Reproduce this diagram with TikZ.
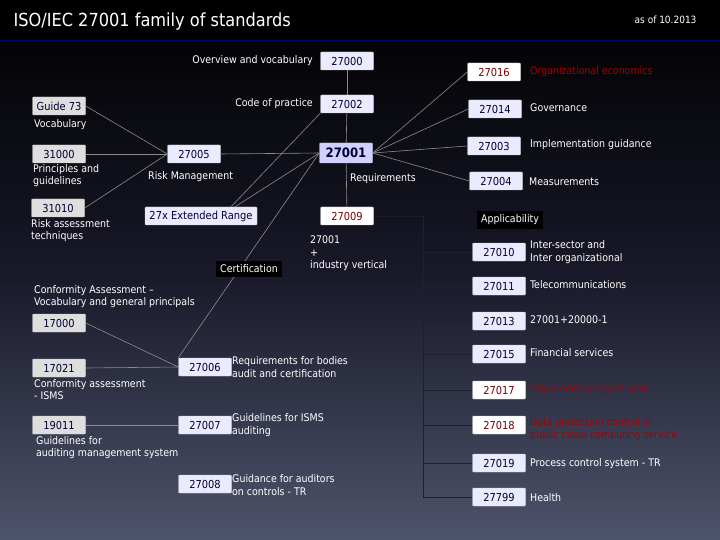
\documentclass[tikz,border=0pt]{standalone}
\usepackage{fontspec}
\setmainfont{DejaVu Sans Condensed}
\definecolor{bgbot}{RGB}{78,84,108}
\definecolor{bgmid}{RGB}{24,24,40}
\definecolor{treeln}{RGB}{30,32,50}
\begin{document}
\begin{tikzpicture}[x=1pt,y=-1pt,
  box/.style={draw=white!80!black,fill=blue!8!white,rounded corners=1pt,inner sep=2.5pt,minimum height=18pt,minimum width=53pt,font=\fontsize{11}{12}\selectfont,text=black!80!blue},
  gbox/.style={box,fill=black!13},
  wbox/.style={box,fill=white,text=red!45!black},
  lbl/.style={text=white,font=\fontsize{10.5}{12.5}\selectfont,align=left,inner sep=0pt},
  rlbl/.style={lbl,text=red!65!black},
  ln/.style={draw=black!45,line width=0.6pt},
  tln/.style={draw=treeln,line width=0.8pt}]
\useasboundingbox (0,0) rectangle (720,540);
\shade[top color=black, bottom color=bgbot, middle color=bgmid] (0,0) rectangle (720,540);
\fill[black] (0,0) rectangle (720,40);
\draw[blue!40!black,line width=1pt] (0,40.5) -- (720,40.5);
\node[text=white,font=\fontsize{18}{20}\selectfont,anchor=west] (title) at (10,22) {ISO/IEC 27001 family of standards};
\node[text=white,font=\fontsize{10}{11}\selectfont,anchor=east] (date) at (700,20) {as of 10.2013};
% central column
\node[box] (n27000) at (347,61) {27000};
\node[box] (n27002) at (347,104) {27002};
\node[box,fill=blue!18!white,font=\bfseries\fontsize{13}{14}\selectfont,minimum height=20pt] (n27001) at (346,153) {27001};
\node[wbox] (n27009) at (347,216) {27009};
\node[lbl,anchor=east] (l27000) at (313,61) {Overview and vocabulary};
\node[lbl,anchor=east] (l27002) at (313,104) {Code of practice};
\node[lbl,anchor=west] (l27001) at (350,179) {Requirements};
\node[lbl,anchor=north west] (l27009) at (310,236) {27001\\+\\industry vertical};
% right top
\node[wbox] (n27016) at (494,72) {27016};
\node[box] (n27014) at (495,109) {27014};
\node[box] (n27003) at (494,146) {27003};
\node[box] (n27004) at (496,181) {27004};
\node[rlbl,anchor=west] (l27016) at (530,72) {Organizational economics};
\node[lbl,anchor=west] (l27014) at (530,108) {Governance};
\node[lbl,anchor=west] (l27003) at (530,145) {Implementation guidance};
\node[lbl,anchor=west] (l27004) at (529,182) {Measurements};
\node[fill=black,text=white,font=\fontsize{10.5}{12}\selectfont,inner sep=4pt] (appl) at (510,220) {Applicability};
% right tree
\node[box] (n27010) at (499,252) {27010};
\node[box] (n27011) at (499,286) {27011};
\node[box] (n27013) at (499,321) {27013};
\node[box] (n27015) at (499,354) {27015};
\node[wbox] (n27017) at (499,390) {27017};
\node[wbox] (n27018) at (499,425) {27018};
\node[box] (n27019) at (499,463) {27019};
\node[box] (n27799) at (499,497) {27799};
\node[lbl,anchor=west] (l27010) at (530,252) {Inter-sector and\\Inter organizational};
\node[lbl,anchor=west] (l27011) at (530,285) {Telecommunications};
\node[lbl,anchor=west] (l27013) at (530,320) {27001+20000-1};
\node[lbl,anchor=west] (l27015) at (530,353) {Financial services};
\node[rlbl,anchor=west] (l27017) at (530,390) {Cloud computing service};
\node[rlbl,anchor=west] (l27018) at (530,429) {Data protection control of\\public cloud computing service};
\node[lbl,anchor=west] (l27019) at (530,464) {Process control system - TR};
\node[lbl,anchor=west] (l27799) at (530,498) {Health};
\coordinate (tc) at (423,216);
\coordinate (tb) at (423,497);
\draw[tln] (n27009.east) -- (tc) -- (tb) -- (n27799.west);
\foreach \n in {27010,27011,27013,27015,27017,27018,27019}
  \draw[tln] (n\n.west) -- (n\n.west -| tc);
% left
\node[gbox] (g73) at (59,106) {Guide 73};
\node[gbox] (n31000) at (59,154) {31000};
\node[gbox] (n31010) at (58,208) {31010};
\node[lbl,anchor=west] (lg73) at (34,125) {Vocabulary};
\node[lbl,anchor=north west] (l31000) at (33,164) {Principles and\\guidelines};
\node[lbl,anchor=north west] (l31010) at (31,219) {Risk assessment\\techniques};
\node[box] (n27005) at (194,154) {27005};
\node[lbl,anchor=west] (l27005) at (148,177) {Risk Management};
\node[box,minimum width=112pt] (ext) at (201,216) {27x Extended Range};
% lower left
\node[lbl,anchor=north west] (lconf) at (34,285) {Conformity Assessment –\\Vocabulary and general principals};
\node[gbox] (n17000) at (59,323) {17000};
\node[gbox] (n17021) at (59,368) {17021};
\node[lbl,anchor=north west] (l17021) at (34,379) {Conformity assessment\\- ISMS};
\node[gbox] (n19011) at (59,425) {19011};
\node[lbl,anchor=north west] (l19011) at (36,436) {Guidelines for\\auditing management system};
\node[box] (n27006) at (205,367) {27006};
\node[box] (n27007) at (205,425) {27007};
\node[box] (n27008) at (205,484) {27008};
\node[lbl,anchor=west] (l27006) at (232,367) {Requirements for bodies\\audit and certification};
\node[lbl,anchor=west] (l27007) at (232,425) {Guidelines for ISMS\\auditing};
\node[lbl,anchor=west] (l27008) at (232,485) {Guidance for auditors\\on controls - TR};
% connectors
\draw[ln] (n27000) -- (n27002);
\draw[ln] (n27002) -- (n27001);
\draw[ln] (n27001) -- (n27009);
\draw[ln] (g73.east) -- (n27005.west);
\draw[ln] (n31000.east) -- (n27005.west);
\draw[ln] (n31010.east) -- (n27005.west);
\draw[ln] (n27005.east) -- (n27001.west);
\draw[ln] (ext.north) ++(30,0) coordinate (e1) -- (n27002.south west);
\draw[ln] (ext.north) ++(34,0) coordinate (e2) -- (n27001.west);
\draw[ln] (n27006.north west) -- (n27001.west);
\draw[ln] (n17000.east) -- (n27006.west);
\draw[ln] (n17021.east) -- (n27006.west);
\draw[ln] (n19011.east) -- (n27007.west);
\foreach \n in {27016,27014,27003,27004}
  \draw[ln] (n27001.east) -- (n\n.west);
\node[fill=black,text=white,font=\fontsize{10.5}{12}\selectfont,inner sep=4pt] (cert) at (249,269) {Certification};
\end{tikzpicture}
\end{document}
